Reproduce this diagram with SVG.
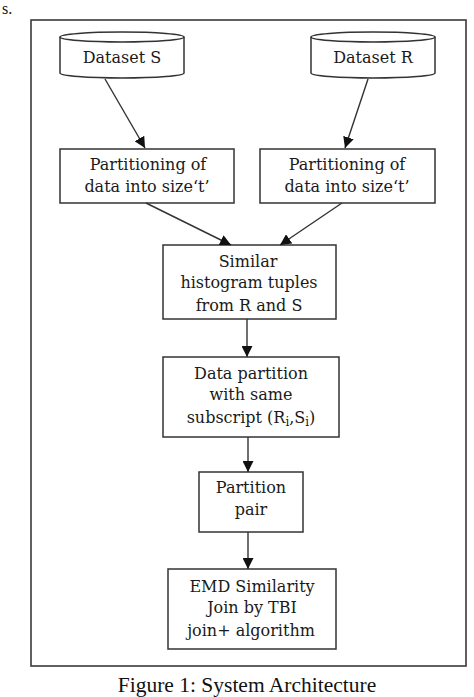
<svg xmlns="http://www.w3.org/2000/svg" width="474" height="697" viewBox="0 0 474 697">
<defs>
<style>
.frame{fill:none;stroke:#3a3a3a;stroke-width:1.6}
.box{fill:#fff;stroke:#333;stroke-width:1.5}
.t{font-family:"DejaVu Serif","Liberation Serif",serif;font-size:16px;fill:#1a1a1a;text-anchor:middle}
.cap{font-family:"Liberation Serif","Times New Roman",serif;font-size:21.5px;fill:#111;text-anchor:middle}
.edge{stroke:#333;stroke-width:1.4;fill:none;marker-end:url(#ah)}
</style>
<marker id="ah" viewBox="0 0 10 10" refX="10" refY="5" markerWidth="11" markerHeight="11" markerUnits="userSpaceOnUse" orient="auto">
<path d="M0,0 L10,5 L0,10 z" fill="#111"/>
</marker>
</defs>
<rect width="474" height="697" fill="#fff"/>
<text x="2" y="14" font-family="Liberation Serif, serif" font-size="16" fill="#111">s.</text>
<rect class="frame" x="31" y="20" width="435" height="646"/>

<g id="datasetS">
<path class="box" d="M60,37 A62,5 0 0 1 184,37 L184,73 A62,5 0 0 1 60,73 Z"/>
<path class="box" fill="none" d="M60,37 A62,5 0 0 0 184,37"/>
<text class="t" x="122" y="63">Dataset S</text>
</g>
<g id="datasetR">
<path class="box" d="M311,37 A62,5 0 0 1 435,37 L435,73 A62,5 0 0 1 311,73 Z"/>
<path class="box" fill="none" d="M311,37 A62,5 0 0 0 435,37"/>
<text class="t" x="373" y="63">Dataset R</text>
</g>
<g id="partS">
<rect class="box" x="60" y="149" width="174" height="54"/>
<text class="t" x="148" y="170">Partitioning of</text>
<text class="t" x="147" y="192">data into size‘t’</text>
</g>
<g id="partR">
<rect class="box" x="260" y="149" width="175" height="54"/>
<text class="t" x="347" y="170">Partitioning of</text>
<text class="t" x="347" y="192">data into size‘t’</text>
</g>
<g id="similar">
<rect class="box" x="163" y="245" width="173" height="74"/>
<text class="t" x="248" y="267">Similar</text>
<text class="t" x="249" y="288">histogram tuples</text>
<text class="t" x="249" y="311">from R and S</text>
</g>
<g id="dataPartition">
<rect class="box" x="163" y="357" width="176" height="80"/>
<text class="t" x="251" y="379">Data partition</text>
<text class="t" x="251" y="400">with same</text>
<text class="t" x="251" y="423">subscript (R<tspan font-size="12" dy="3">i</tspan><tspan dy="-3">,S</tspan><tspan font-size="12" dy="3">i</tspan><tspan dy="-3">)</tspan></text>
</g>
<g id="partitionPair">
<rect class="box" x="199" y="472" width="104" height="60"/>
<text class="t" x="251" y="493">Partition</text>
<text class="t" x="251" y="515">pair</text>
</g>
<g id="emd">
<rect class="box" x="168" y="569" width="168" height="80"/>
<text class="t" x="252" y="592">EMD Similarity</text>
<text class="t" x="252" y="613">Join by TBI</text>
<text class="t" x="251" y="636">join+ algorithm</text>
</g>

<g id="connectors">
<line class="edge" x1="105" y1="79" x2="145" y2="148"/>
<line class="edge" x1="368" y1="79" x2="345" y2="148"/>
<line class="edge" x1="146" y1="203" x2="231" y2="245"/>
<line class="edge" x1="342" y1="203" x2="280" y2="245"/>
<line class="edge" x1="247" y1="319" x2="247" y2="357"/>
<line class="edge" x1="248" y1="437" x2="248" y2="472"/>
<line class="edge" x1="248" y1="532" x2="248" y2="569"/>
</g>

<text class="cap" x="247" y="692">Figure 1: System Architecture</text>
</svg>
